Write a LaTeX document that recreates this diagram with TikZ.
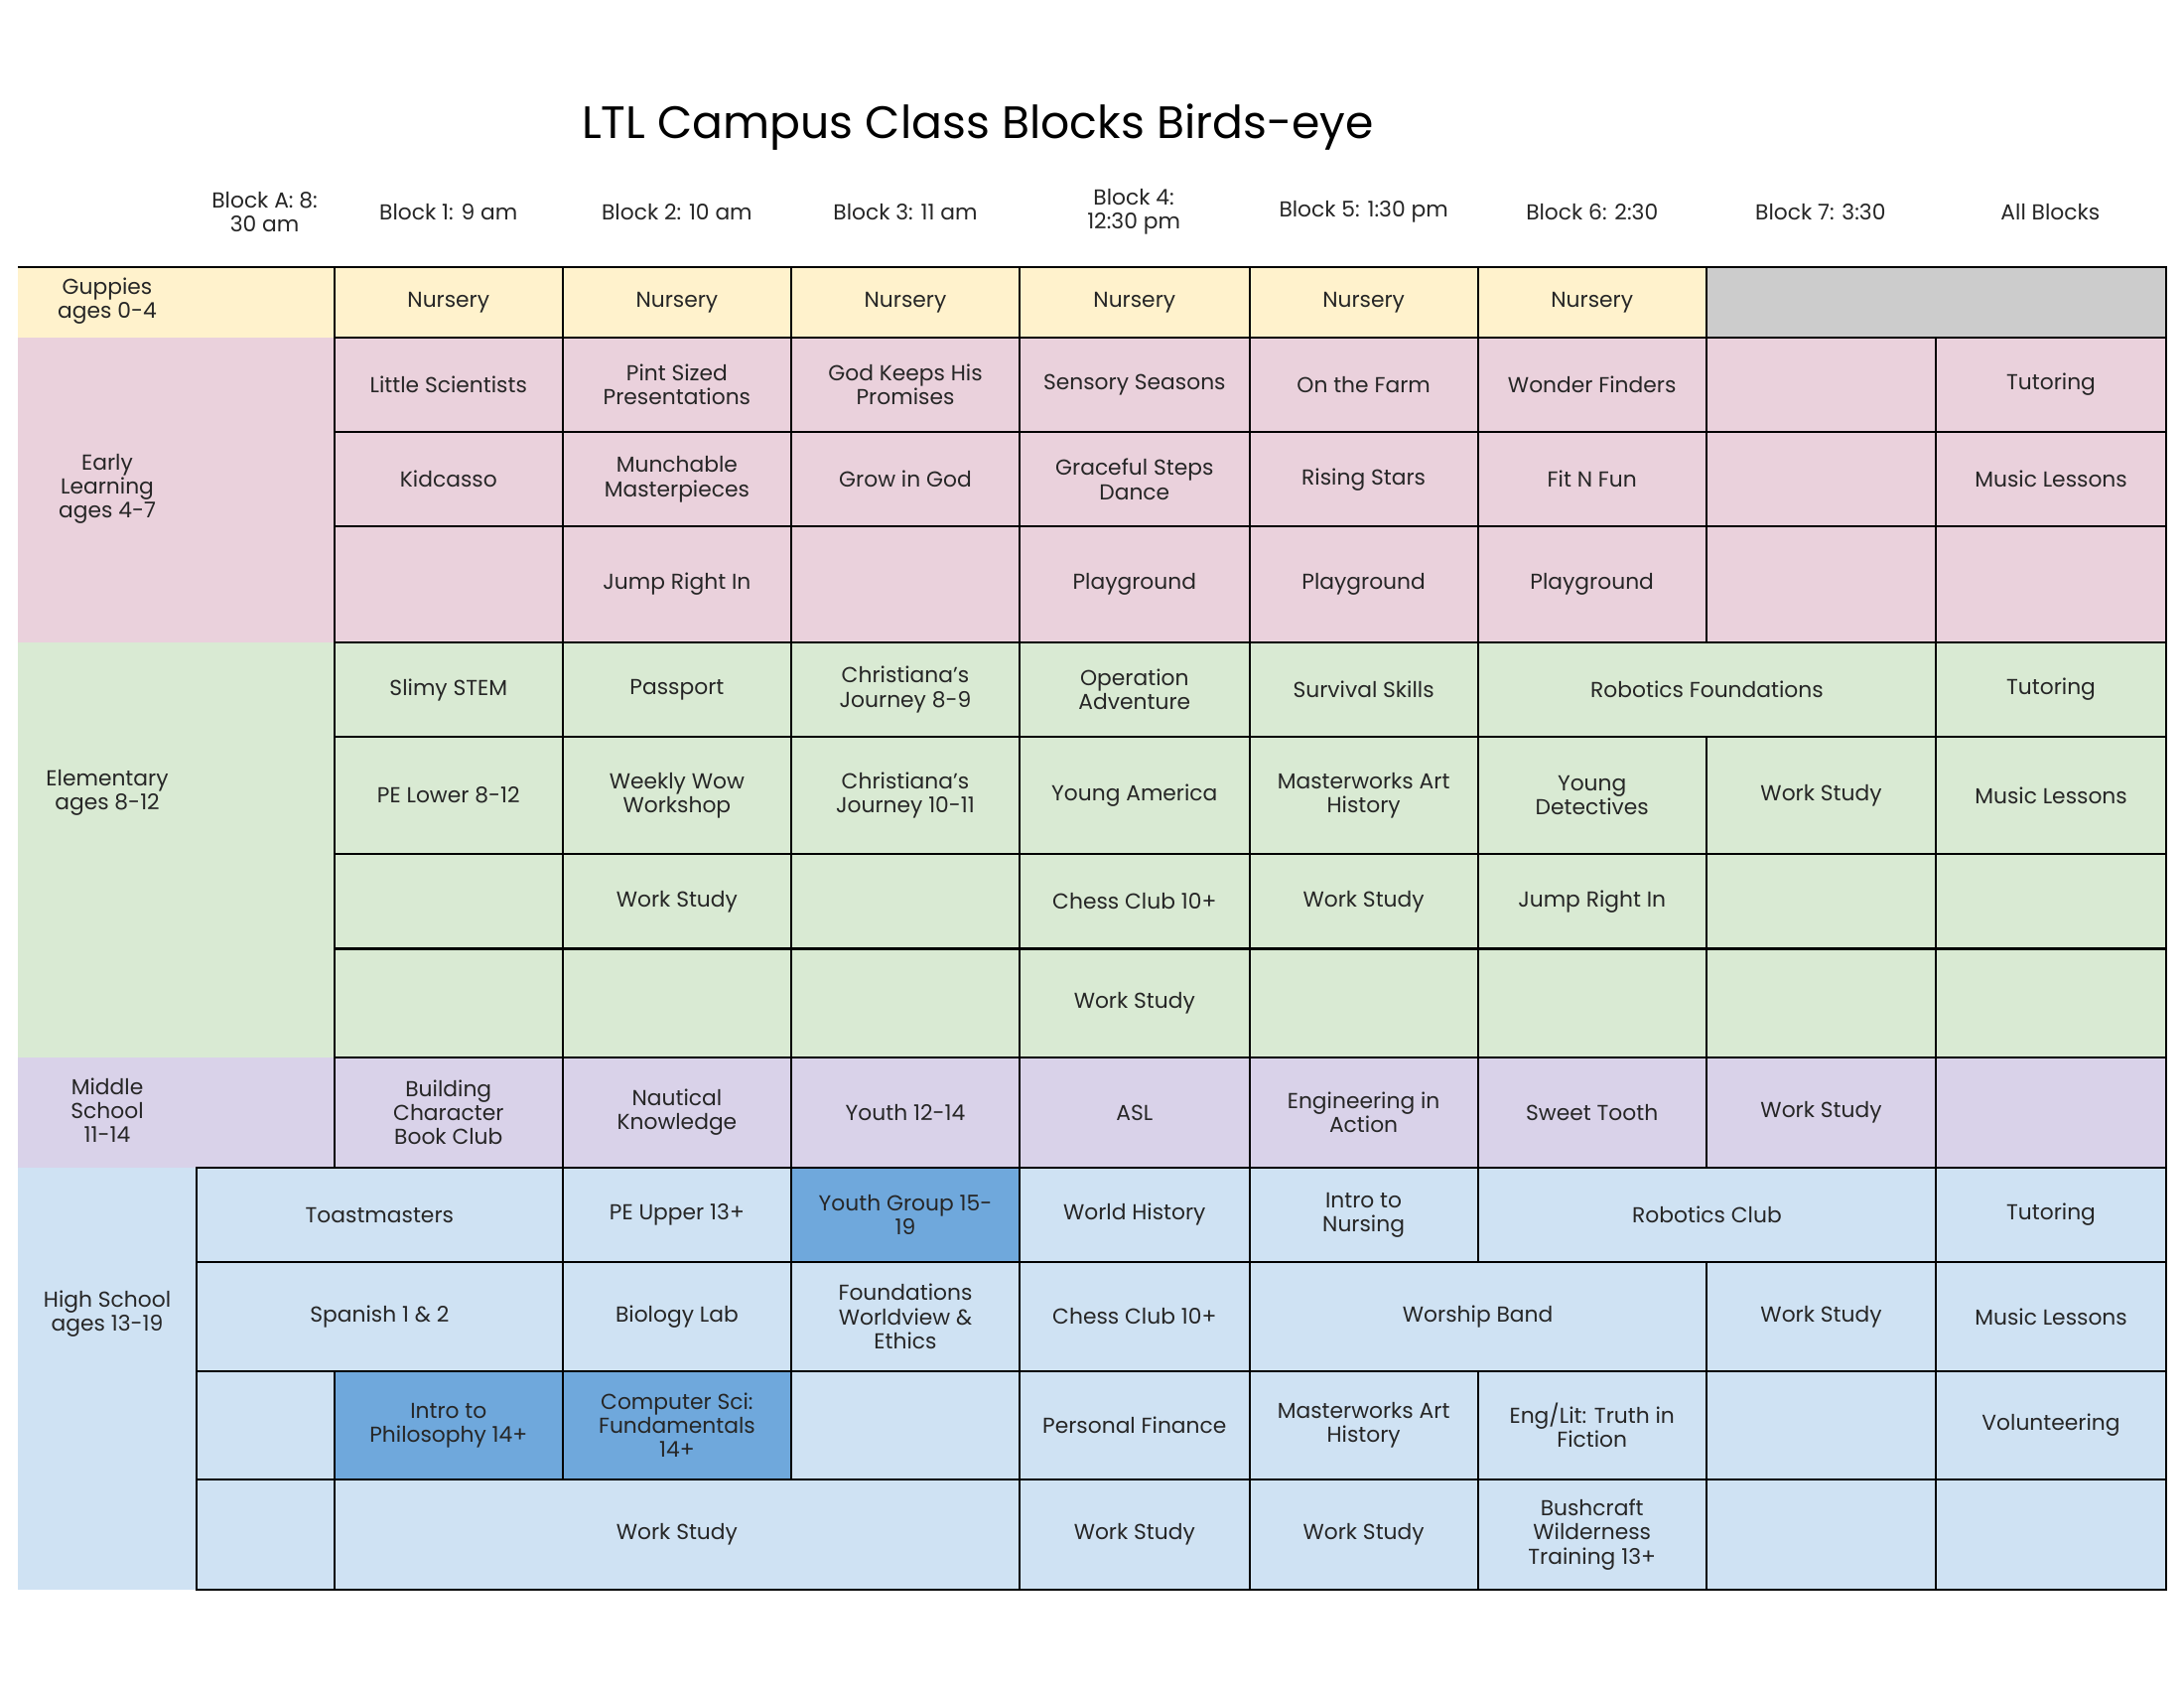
\documentclass[tikz,border=0pt]{standalone}
\usepackage{fontspec}
\setmainfont{Poppins}
\definecolor{yel}{HTML}{FFF2CC}
\definecolor{pnk}{HTML}{EAD1DC}
\definecolor{grn}{HTML}{D9EAD3}
\definecolor{pur}{HTML}{D9D2E9}
\definecolor{blu}{HTML}{CFE2F3}
\definecolor{hl}{HTML}{6FA8DC}
\definecolor{gry}{HTML}{CCCCCC}
\newcommand\cl[6]{\path[draw=black,line width=0.6pt,fill=#5] (#1,#3) rectangle (#2,#4);
 \node[txt] (n#1-#3) at ({(#1+#2)/2},{(#3+#4)/2}) {#6};}
\begin{document}
\begin{tikzpicture}[x=0.01403cm,y=-0.01403cm,
 txt/.style={font=\fontsize{6.2}{6.9}\selectfont,align=center,inner sep=0pt,text=black!85}]
\useasboundingbox[fill=white] (0,0) rectangle (1568,1212);
\node[font=\fontsize{13}{15}\selectfont] (title) at (702,91) {LTL Campus Class Blocks Birds-eye};
\foreach \x/\t [count=\i] in {190/{Block A: 8:\\30 am},322/{Block 1: 9 am},486/{Block 2: 10 am},650/{Block 3: 11 am},814/{Block 4:\\12:30 pm},979/{Block 5: 1:30 pm},1143/{Block 6: 2:30},1307/{Block 7: 3:30},1472/{All Blocks}}
 \node[txt] (h\i) at (\x,152) {\t};
% label fills
\fill[yel] (13,192) rectangle (240,242);
\fill[pnk] (13,242) rectangle (240,461);
\fill[grn] (13,461) rectangle (240,759);
\fill[pur] (13,759) rectangle (240,838);
\fill[blu] (13,838) rectangle (141,1141);
\node[txt] (l1) at (77,216) {Guppies\\ages 0-4};
\node[txt] (l2) at (77,351) {Early\\Learning\\ages 4-7};
\node[txt] (l3) at (77,569) {Elementary\\ages 8-12};
\node[txt] (l4) at (77,797) {Middle\\School\\11-14};
\node[txt] (l5) at (77,943) {High School\\ages 13-19};
% Guppies
\foreach \a/\b in {240/404,404/568,568/732,732/897,897/1061,1061/1225}{\cl{\a}{\b}{192}{242}{yel}{Nursery}}
\cl{1225}{1555}{192}{242}{gry}{}
% Early
\cl{240}{404}{242}{310}{pnk}{Little Scientists}
\cl{404}{568}{242}{310}{pnk}{Pint Sized\\Presentations}
\cl{568}{732}{242}{310}{pnk}{God Keeps His\\Promises}
\cl{732}{897}{242}{310}{pnk}{Sensory Seasons}
\cl{897}{1061}{242}{310}{pnk}{On the Farm}
\cl{1061}{1225}{242}{310}{pnk}{Wonder Finders}
\cl{1225}{1390}{242}{310}{pnk}{}
\cl{1390}{1555}{242}{310}{pnk}{Tutoring}
\cl{240}{404}{310}{378}{pnk}{Kidcasso}
\cl{404}{568}{310}{378}{pnk}{Munchable\\Masterpieces}
\cl{568}{732}{310}{378}{pnk}{Grow in God}
\cl{732}{897}{310}{378}{pnk}{Graceful Steps\\Dance}
\cl{897}{1061}{310}{378}{pnk}{Rising Stars}
\cl{1061}{1225}{310}{378}{pnk}{Fit N Fun}
\cl{1225}{1390}{310}{378}{pnk}{}
\cl{1390}{1555}{310}{378}{pnk}{Music Lessons}
\cl{240}{404}{378}{461}{pnk}{}
\cl{404}{568}{378}{461}{pnk}{Jump Right In}
\cl{568}{732}{378}{461}{pnk}{}
\cl{732}{897}{378}{461}{pnk}{Playground}
\cl{897}{1061}{378}{461}{pnk}{Playground}
\cl{1061}{1225}{378}{461}{pnk}{Playground}
\cl{1225}{1390}{378}{461}{pnk}{}
\cl{1390}{1555}{378}{461}{pnk}{}
% Elementary
\cl{240}{404}{461}{529}{grn}{Slimy STEM}
\cl{404}{568}{461}{529}{grn}{Passport}
\cl{568}{732}{461}{529}{grn}{Christiana's\\Journey 8-9}
\cl{732}{897}{461}{529}{grn}{Operation\\Adventure}
\cl{897}{1061}{461}{529}{grn}{Survival Skills}
\cl{1061}{1390}{461}{529}{grn}{Robotics Foundations}
\cl{1390}{1555}{461}{529}{grn}{Tutoring}
\cl{240}{404}{529}{613}{grn}{PE Lower 8-12}
\cl{404}{568}{529}{613}{grn}{Weekly Wow\\Workshop}
\cl{568}{732}{529}{613}{grn}{Christiana's\\Journey 10-11}
\cl{732}{897}{529}{613}{grn}{Young America}
\cl{897}{1061}{529}{613}{grn}{Masterworks Art\\History}
\cl{1061}{1225}{529}{613}{grn}{Young\\Detectives}
\cl{1225}{1390}{529}{613}{grn}{Work Study}
\cl{1390}{1555}{529}{613}{grn}{Music Lessons}
\cl{240}{404}{613}{681}{grn}{}
\cl{404}{568}{613}{681}{grn}{Work Study}
\cl{568}{732}{613}{681}{grn}{}
\cl{732}{897}{613}{681}{grn}{Chess Club 10+}
\cl{897}{1061}{613}{681}{grn}{Work Study}
\cl{1061}{1225}{613}{681}{grn}{Jump Right In}
\cl{1225}{1390}{613}{681}{grn}{}
\cl{1390}{1555}{613}{681}{grn}{}
\cl{240}{404}{681}{759}{grn}{}
\cl{404}{568}{681}{759}{grn}{}
\cl{568}{732}{681}{759}{grn}{}
\cl{732}{897}{681}{759}{grn}{Work Study}
\cl{897}{1061}{681}{759}{grn}{}
\cl{1061}{1225}{681}{759}{grn}{}
\cl{1225}{1390}{681}{759}{grn}{}
\cl{1390}{1555}{681}{759}{grn}{}
% Middle
\cl{240}{404}{759}{838}{pur}{Building\\Character\\Book Club}
\cl{404}{568}{759}{838}{pur}{Nautical\\Knowledge}
\cl{568}{732}{759}{838}{pur}{Youth 12-14}
\cl{732}{897}{759}{838}{pur}{ASL}
\cl{897}{1061}{759}{838}{pur}{Engineering in\\Action}
\cl{1061}{1225}{759}{838}{pur}{Sweet Tooth}
\cl{1225}{1390}{759}{838}{pur}{Work Study}
\cl{1390}{1555}{759}{838}{pur}{}
% High School
\cl{141}{404}{838}{906}{blu}{Toastmasters}
\cl{404}{568}{838}{906}{blu}{PE Upper 13+}
\cl{568}{732}{838}{906}{hl}{Youth Group 15-\\19}
\cl{732}{897}{838}{906}{blu}{World History}
\cl{897}{1061}{838}{906}{blu}{Intro to\\Nursing}
\cl{1061}{1390}{838}{906}{blu}{Robotics Club}
\cl{1390}{1555}{838}{906}{blu}{Tutoring}
\cl{141}{404}{906}{984}{blu}{Spanish 1 \& 2}
\cl{404}{568}{906}{984}{blu}{Biology Lab}
\cl{568}{732}{906}{984}{blu}{Foundations\\Worldview \&\\Ethics}
\cl{732}{897}{906}{984}{blu}{Chess Club 10+}
\cl{897}{1225}{906}{984}{blu}{Worship Band}
\cl{1225}{1390}{906}{984}{blu}{Work Study}
\cl{1390}{1555}{906}{984}{blu}{Music Lessons}
\cl{141}{240}{984}{1062}{blu}{}
\cl{240}{404}{984}{1062}{hl}{Intro to\\Philosophy 14+}
\cl{404}{568}{984}{1062}{hl}{Computer Sci:\\Fundamentals\\14+}
\cl{568}{732}{984}{1062}{blu}{}
\cl{732}{897}{984}{1062}{blu}{Personal Finance}
\cl{897}{1061}{984}{1062}{blu}{Masterworks Art\\History}
\cl{1061}{1225}{984}{1062}{blu}{Eng/Lit: Truth in\\Fiction}
\cl{1225}{1390}{984}{1062}{blu}{}
\cl{1390}{1555}{984}{1062}{blu}{Volunteering}
\cl{141}{240}{1062}{1141}{blu}{}
\cl{240}{732}{1062}{1141}{blu}{Work Study}
\cl{732}{897}{1062}{1141}{blu}{Work Study}
\cl{897}{1061}{1062}{1141}{blu}{Work Study}
\cl{1061}{1225}{1062}{1141}{blu}{Bushcraft\\Wilderness\\Training 13+}
\cl{1225}{1390}{1062}{1141}{blu}{}
\cl{1390}{1555}{1062}{1141}{blu}{}
\coordinate (tl) at (13,192); \coordinate (tr) at (240,192);
\draw[line width=0.6pt] (tl) -- (tr);
\end{tikzpicture}
\end{document}
